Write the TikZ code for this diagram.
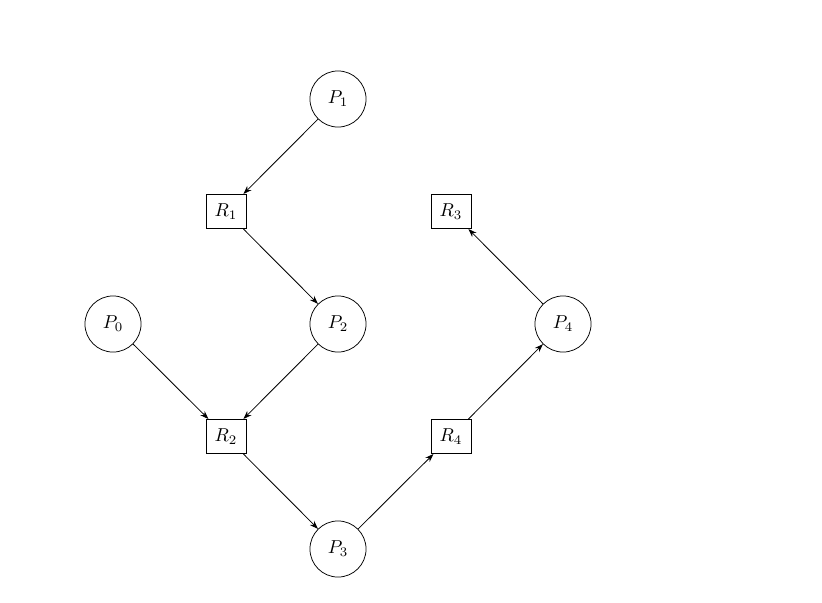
\documentclass[tikz,border=0pt]{standalone}
\usetikzlibrary{arrows.meta}
\begin{document}
\begin{tikzpicture}[x=0.535pt,y=-0.535pt,
  proc/.style={draw,circle,minimum size=30pt,inner sep=0pt,line width=0.4pt},
  res/.style={draw,rectangle,minimum width=21.4pt,minimum height=18.2pt,inner sep=0pt,line width=0.5pt},
  edge/.style={-{Stealth[length=4.5pt,width=3.2pt]},line width=0.45pt}]
\useasboundingbox (0,0) rectangle (822,602);
\node[proc] (P1) at (338,99) {$P_1$};
\node[res]  (R1) at (226,211.5) {$R_1$};
\node[res]  (R3) at (451,211.5) {$R_3$};
\node[proc] (P0) at (113,324) {$P_0$};
\node[proc] (P2) at (338,324) {$P_2$};
\node[proc] (P4) at (563,324) {$P_4$};
\node[res]  (R2) at (226,436.5) {$R_2$};
\node[res]  (R4) at (451,436.5) {$R_4$};
\node[proc] (P3) at (338,549) {$P_3$};
\draw[edge] (P1) -- (R1);
\draw[edge] (R1) -- (P2);
\draw[edge] (P0) -- (R2);
\draw[edge] (P2) -- (R2);
\draw[edge] (R2) -- (P3);
\draw[edge] (P3) -- (R4);
\draw[edge] (R4) -- (P4);
\draw[edge] (P4) -- (R3);
\end{tikzpicture}
\end{document}
